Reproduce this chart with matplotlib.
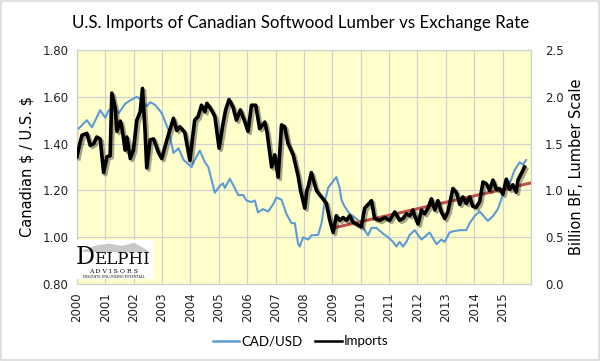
import numpy as np
import matplotlib.pyplot as plt
import matplotlib.patheffects as pe
from matplotlib.patches import Rectangle, Polygon
from matplotlib.lines import Line2D

# CAD/USD exchange rate (left axis), decimal years
cad_t = [2000.00, 2000.35, 2000.53, 2000.82, 2001.00, 2001.11, 2001.29, 2001.47, 2001.70, 2001.88,
         2002.11, 2002.29, 2002.46, 2002.58, 2002.76, 2002.99, 2003.23, 2003.40, 2003.58, 2003.76,
         2004.04, 2004.15, 2004.33, 2004.51, 2004.63, 2004.86, 2005.04, 2005.15, 2005.21, 2005.39,
         2005.56, 2005.68, 2005.86, 2005.97, 2006.15, 2006.27, 2006.38, 2006.56, 2006.74, 2006.91,
         2007.03, 2007.21, 2007.38, 2007.56, 2007.68, 2007.79, 2007.85, 2007.97, 2008.15, 2008.26,
         2008.50, 2008.62, 2008.73, 2008.85, 2008.97, 2009.14, 2009.26, 2009.32, 2009.44, 2009.61,
         2009.79, 2010.02, 2010.14, 2010.26, 2010.38, 2010.55, 2010.79, 2010.96, 2011.14, 2011.26,
         2011.37, 2011.49, 2011.61, 2011.73, 2011.90, 2012.14, 2012.43, 2012.67, 2012.84, 2012.96,
         2013.13, 2013.25, 2013.49, 2013.72, 2013.84, 2014.01, 2014.19, 2014.48, 2014.66, 2014.83,
         2014.95, 2015.07, 2015.25, 2015.42, 2015.60, 2015.72, 2015.83]
cad_v = [1.457, 1.50, 1.47, 1.543, 1.51, 1.54, 1.556, 1.53, 1.57, 1.585,
         1.60, 1.585, 1.56, 1.577, 1.565, 1.53, 1.457, 1.36, 1.38, 1.33,
         1.30, 1.33, 1.37, 1.32, 1.30, 1.19, 1.22, 1.23, 1.21, 1.25,
         1.21, 1.18, 1.18, 1.157, 1.15, 1.157, 1.106, 1.12, 1.11, 1.14,
         1.17, 1.16, 1.10, 1.06, 1.06, 0.973, 0.96, 0.999, 0.99, 1.008,
         1.01, 1.06, 1.15, 1.21, 1.23, 1.257, 1.21, 1.16, 1.13, 1.10,
         1.085, 1.06, 1.03, 1.008, 1.04, 1.04, 1.015, 1.0, 0.98, 0.96,
         0.98, 0.96, 0.98, 1.01, 1.03, 0.99, 1.02, 0.97, 0.99, 0.98,
         1.02, 1.025, 1.03, 1.03, 1.06, 1.09, 1.11, 1.07, 1.09, 1.12,
         1.16, 1.21, 1.23, 1.286, 1.32, 1.31, 1.33]

# softwood lumber imports, billion BF (right axis)
imp_t = [2000.00, 2000.10, 2000.18, 2000.35, 2000.47, 2000.59, 2000.70, 2000.82, 2000.94, 2001.06,
         2001.17, 2001.23, 2001.35, 2001.41, 2001.53, 2001.58, 2001.70, 2001.76, 2001.88, 2001.99,
         2002.11, 2002.23, 2002.31, 2002.40, 2002.46, 2002.58, 2002.70, 2002.88, 2002.99, 2003.17,
         2003.29, 2003.40, 2003.52, 2003.63, 2003.80, 2003.98, 2004.15, 2004.27, 2004.39, 2004.51,
         2004.58, 2004.74, 2004.86, 2005.01, 2005.14, 2005.24, 2005.36, 2005.50, 2005.62, 2005.76,
         2005.92, 2006.03, 2006.15, 2006.30, 2006.44, 2006.62, 2006.70, 2006.86, 2006.97, 2007.09,
         2007.21, 2007.32, 2007.44, 2007.62, 2007.79, 2007.88, 2008.03, 2008.10, 2008.15, 2008.26,
         2008.44, 2008.56, 2008.67, 2008.79, 2008.91, 2009.03, 2009.14, 2009.26, 2009.38, 2009.50,
         2009.61, 2009.73, 2009.91, 2010.02, 2010.14, 2010.26, 2010.38, 2010.49, 2010.67, 2010.85,
         2011.02, 2011.20, 2011.37, 2011.49, 2011.61, 2011.73, 2011.84, 2011.90, 2012.02, 2012.14,
         2012.25, 2012.37, 2012.49, 2012.61, 2012.72, 2012.84, 2012.96, 2013.07, 2013.25, 2013.37,
         2013.49, 2013.60, 2013.72, 2013.84, 2013.95, 2014.07, 2014.19, 2014.31, 2014.43, 2014.54,
         2014.66, 2014.78, 2014.89, 2015.01, 2015.13, 2015.25, 2015.36, 2015.48, 2015.54, 2015.66,
         2015.77]
imp_v = [1.36, 1.50, 1.59, 1.61, 1.48, 1.50, 1.57, 1.55, 1.19, 1.36,
         1.37, 2.04, 1.88, 1.63, 1.74, 1.68, 1.43, 1.57, 1.34, 1.43,
         1.75, 1.84, 2.09, 1.64, 1.24, 1.54, 1.55, 1.40, 1.34, 1.54,
         1.66, 1.77, 1.64, 1.68, 1.62, 1.32, 1.75, 1.79, 1.91, 1.84,
         1.93, 1.86, 1.79, 1.45, 1.70, 1.86, 1.97, 1.89, 1.75, 1.86,
         1.73, 1.63, 1.91, 1.91, 1.66, 1.73, 1.62, 1.25, 1.38, 1.14,
         1.70, 1.68, 1.50, 1.38, 1.16, 1.00, 0.81, 1.00, 1.04, 1.19,
         1.00, 0.95, 0.91, 0.86, 0.68, 0.55, 0.73, 0.68, 0.71, 0.68,
         0.73, 0.66, 0.63, 0.61, 0.81, 0.85, 0.89, 0.70, 0.68, 0.71,
         0.68, 0.77, 0.68, 0.70, 0.75, 0.73, 0.79, 0.73, 0.64, 0.79,
         0.75, 0.81, 0.91, 0.79, 0.89, 0.77, 0.70, 0.77, 1.02, 0.98,
         0.85, 0.93, 0.86, 0.93, 0.83, 0.82, 0.88, 1.09, 1.07, 1.00,
         1.11, 1.01, 1.02, 0.96, 1.12, 1.01, 1.06, 0.98, 1.11, 1.18,
         1.25]

# linear trend on imports since 2009
trend_t = [2009.05, 2016.0]
trend_v = [0.60, 1.08]

years = list(range(2000, 2016))

fig = plt.figure(figsize=(6.01, 3.61), dpi=100)
fig.patches.append(Rectangle((0.002, 0.004), 0.995, 0.993, transform=fig.transFigure,
                             fill=False, edgecolor='#d9d9d9', linewidth=1.2))

ax = fig.add_axes([0.128, 0.2133, 0.7555, 0.6482])
ax.set_facecolor('#ffffcc')
ax.plot(cad_t, cad_v, color='#5b9bd5', lw=1.5, zorder=3)
ax.set_xlim(2000, 2016)
ax.set_ylim(0.8, 1.8)
ax.set_yticks(np.arange(0.8, 1.81, 0.2))
ax.set_yticklabels(['%.2f' % v for v in np.arange(0.8, 1.81, 0.2)])
ax.set_xticks(range(2000, 2017))
ax.set_xticklabels([str(y) for y in years] + [''], rotation=90)
ax.grid(True, color='#d0d0d0', lw=0.9)
ax.set_axisbelow(True)
for s in ax.spines.values():
    s.set_color('#d0d0d0')
ax.tick_params(length=0, labelsize=8.5, colors='#222222', pad=6)
ax.set_ylabel(r'Canadian \$ / U.S. \$', fontsize=10.5, labelpad=6)

ax2 = ax.twinx()
ax2.plot(trend_t, trend_v, color='#c0504d', lw=2.2, zorder=2)
ax2.plot(imp_t, imp_v, color='black', lw=2.6, zorder=4,
         path_effects=[pe.SimpleLineShadow(offset=(1.5, -1.5), shadow_color='black', alpha=0.35),
                       pe.Normal()])
ax2.set_ylim(0, 2.5)
ax2.set_yticks(np.arange(0, 2.51, 0.5))
ax2.set_yticklabels(['%.1f' % v for v in np.arange(0, 2.51, 0.5)])
ax2.tick_params(length=0, labelsize=8.5, colors='#222222', pad=10)
for s in ax2.spines.values():
    s.set_color('#d0d0d0')
ax2.set_ylabel('Billion BF, Lumber Scale', fontsize=10.5, labelpad=4)

handles = [Line2D([], [], color='#5b9bd5', lw=1.8), Line2D([], [], color='black', lw=1.8)]
fig.legend(handles, ['CAD/USD', 'Imports'], loc='center', bbox_to_anchor=(0.5, 0.055), ncol=2,
           frameon=False, handlelength=2.0, handletextpad=0.15, columnspacing=1.0,
           prop={'family': 'Lato', 'size': 9.5})

fig.text(0.5, 0.935, 'U.S. Imports of Canadian Softwood Lumber vs Exchange Rate',
         ha='center', va='center', fontsize=12.2, family='Lato')

# logo
lax = fig.add_axes([0.121, 0.226, 0.136, 0.108])
lax.set_xlim(0, 1)
lax.set_ylim(0, 1)
lax.axis('off')
lax.add_patch(Rectangle((0, 0), 1, 1, color='white', zorder=0))
lax.add_patch(Polygon([[0.12, 0.72], [0.3, 0.86], [0.45, 0.9], [0.6, 0.84], [0.75, 0.92],
                       [0.92, 0.72]], closed=True, color='#c8c8c8', zorder=1))
lax.text(0.04, 0.55, 'D', fontsize=17, family='DejaVu Serif', ha='left', va='center', zorder=2)
lax.text(0.26, 0.5, 'ELPHI', fontsize=12, family='DejaVu Serif', ha='left', va='center', zorder=2)
lax.text(0.5, 0.2, 'A D V I S O R S', fontsize=4.5, family='DejaVu Serif', ha='center', va='center')
lax.text(0.5, 0.06, 'INSIGHTS UNLOCKING POTENTIAL', fontsize=2.3, family='DejaVu Serif',
         ha='center', va='center')

fig.savefig('out.png', dpi=100)
